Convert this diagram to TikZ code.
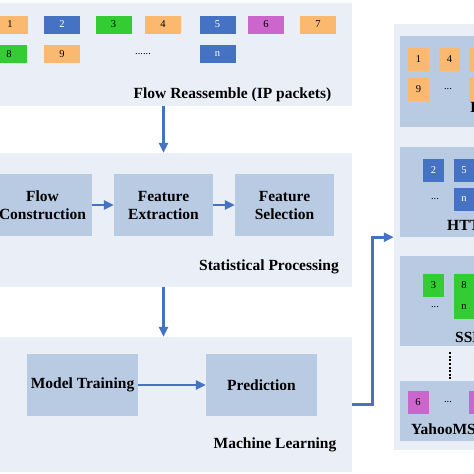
\documentclass[tikz,border=0pt]{standalone}
\usepackage{fontspec}
\setmainfont{Liberation Serif}
\usetikzlibrary{shapes,arrows,arrows.meta,positioning,calc}
\definecolor{panelbg}{RGB}{233,238,247}
\definecolor{blockbg}{RGB}{185,202,227}
\definecolor{pktorange}{RGB}{250,185,110}
\definecolor{pktblue}{RGB}{70,114,196}
\definecolor{pktgreen}{RGB}{51,204,51}
\definecolor{pktpink}{RGB}{204,102,204}
\definecolor{arrowblue}{RGB}{68,114,196}

\begin{document}
\begin{tikzpicture}[x=1pt,y=-1pt,>={Triangle[length=10pt,width=9pt]}]
\useasboundingbox (0,0) rectangle (474,474);
\clip (0,0) rectangle (474,474);
\tikzstyle{panel} = [fill=panelbg, shape=rectangle, inner sep=0pt]
\tikzstyle{sub} = [fill=blockbg, shape=rectangle, inner sep=0pt, minimum width=90pt]
\tikzstyle{block} = [fill=blockbg, shape=rectangle, minimum height=62pt, minimum width=99pt, align=center, font=\fontsize{15.5}{18}\selectfont\bfseries]
\tikzstyle{title} = [font=\fontsize{15.5}{18}\selectfont\bfseries, inner sep=0pt]
\tikzstyle{pkt} = [shape=rectangle, minimum width=36pt, minimum height=18pt, inner sep=0pt, font=\fontsize{10.5}{12}\selectfont]
\tikzstyle{cell} = [shape=rectangle, minimum width=21pt, minimum height=23pt, inner sep=0pt, font=\fontsize{10.5}{12}\selectfont]
\tikzstyle{dots} = [inner sep=0pt, font=\fontsize{10.5}{12}\selectfont]
\tikzstyle{flow} = [draw=arrowblue, line width=2.6pt]
%Panels
\node at (173.5,54.5) [panel, minimum width=357pt, minimum height=103pt] (reasm) {};
\node at (173.5,220) [panel, minimum width=357pt, minimum height=134pt] (stat) {};
\node at (173.5,404.5) [panel, minimum width=357pt, minimum height=135pt] (ml) {};
\node at (442,237) [panel, minimum width=96pt, minimum height=426pt] (cls) {};
\node at (445,81.5) [sub, minimum height=91pt] (sub1) {};
\node at (445,192) [sub, minimum height=90pt] (sub2) {};
\node at (445,301) [sub, minimum height=90pt] (sub3) {};
\node at (445,411) [sub, minimum height=60pt] (sub4) {};
%Packets
\node at (10,24.5) [pkt, fill=pktorange] (p1) {1};
\node at (62,24.5) [pkt, fill=pktblue, text=white] (p2) {2};
\node at (113.5,24.5) [pkt, fill=pktgreen] (p3) {3};
\node at (163,24.5) [pkt, fill=pktorange] (p4) {4};
\node at (217.5,24.5) [pkt, fill=pktblue, text=white] (p5) {5};
\node at (266,24.5) [pkt, fill=pktpink] (p6) {6};
\node at (318,24.5) [pkt, fill=pktorange] (p7) {7};
\node at (9,54) [pkt, fill=pktgreen] (p8) {8};
\node at (62,54) [pkt, fill=pktorange] (p9) {9};
\node at (143,54) [dots] (pdots) {......};
\node at (217.5,54) [pkt, fill=pktblue, text=white] (pn) {n};
\node at (232.5,98) [title, anchor=base] (reasmlbl) {Flow Reassemble (IP packets)};
%Statistical processing
\node at (42.5,205) [block] (fcon) {Flow\\Construction};
\node at (163.5,205) [block] (fext) {Feature\\Extraction};
\node at (284.5,205) [block] (fsel) {Feature\\Selection};
\node at (269,270) [title, anchor=base] (statlbl) {Statistical Processing};
%Machine learning
\node at (82.5,385) [block, minimum width=111pt] (mtrain) {Model Training};
\node at (261.5,385) [block, minimum width=111pt] (pred) {Prediction};
\node at (275,448) [title, anchor=base] (mllbl) {Machine Learning};
%Classes
\node at (418.5,59.5) [cell, fill=pktorange] (a1) {1};
\node at (449.5,59.5) [cell, fill=pktorange] (a4) {4};
\node at (479.5,59.5) [cell, fill=pktorange] (a7) {};
\node at (418.5,89) [cell, fill=pktorange] (a9) {9};
\node at (448,89) [dots] (adots) {...};
\node at (479.5,89) [cell, fill=pktorange] (an) {};
\node at (470,112) [title, anchor=base west] (sub1lbl) {I};
\node at (447,230) [title, anchor=base west] (sub2lbl) {HTTP};
\node at (433.5,170.5) [cell, fill=pktblue, text=white] (b2) {2};
\node at (464,170.5) [cell, fill=pktblue, text=white] (b5) {5};
\node at (435,199.5) [dots] (bdots) {...};
\node at (464,199.5) [cell, fill=pktblue, text=white] (bn) {n};
\node at (433.5,285) [cell, fill=pktgreen] (c3) {3};
\node at (464,285) [cell, fill=pktgreen] (c8) {8};
\node at (435,307) [dots] (cdots) {...};
\node at (464,307) [cell, fill=pktgreen] (cn) {n};
\node at (455,342) [title, anchor=base west] (sub3lbl) {SSL};
\node at (418,402) [cell, fill=pktpink] (d6) {6};
\node at (448,402) [dots] (ddots) {...};
\node at (479,402) [cell, fill=pktpink] (dn) {};
\node at (411,434) [title, anchor=base west] (sub4lbl) {YahooMSG};
\begin{scope}[flow]
\draw[->] (reasm.south -| fext.north) -- (stat.north -| fext.north);
\draw[->] (fcon) -- (fext);
\draw[->] (fext) -- (fsel);
\draw[->] (stat.south -| fext.south) -- (ml.north -| fext.south);
\draw[->] (mtrain) -- (pred);
\draw[->] (ml.east) -- ++(20,0) |- (cls.west |- sub2.south);
\end{scope}
\draw[line width=2pt, dash pattern=on 2pt off 1.6pt] ([xshift=5pt, yshift=-6pt]sub3.south) -- ([xshift=5pt, yshift=1pt]sub4.north);
\end{tikzpicture}
\end{document}
